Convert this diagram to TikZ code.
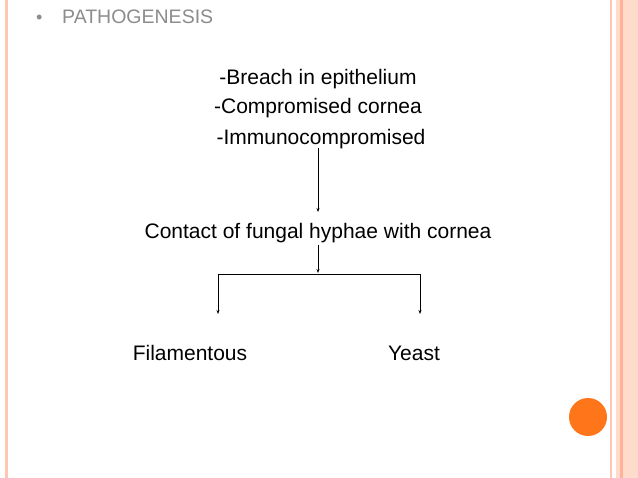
\documentclass[tikz,border=0pt]{standalone}
\usepackage{fontspec}
\setmainfont{Liberation Sans}
\usetikzlibrary{arrows.meta}
\begin{document}
\begin{tikzpicture}[x=1pt,y=-1pt,
  txt/.style={font=\fontsize{21}{24}\selectfont, inner sep=0pt, anchor=base},
  arr/.style={-{Stealth[length=4pt,width=3pt]}, line width=0.6pt}]
\useasboundingbox (0,0) rectangle (638,478);
\fill[white] (0,0) rectangle (638,478);
% borders
\fill[red!50!orange!30] (5,0) rectangle (8,478);
\fill[red!50!orange!30] (610,0) rectangle (612,478);
\fill[red!40!orange!20] (616,0) rectangle (638,478);
\fill[red!50!orange!40] (620,0) rectangle (623,478);
\fill[orange!80!red!90] (588,417) circle (19);
% title
\node[anchor=base west, inner sep=0pt, text=gray!90, font=\fontsize{18}{21}\selectfont] (tb) at (36,24) {\textbullet};
\node[anchor=base west, inner sep=0pt, text=gray!90, font=\fontsize{19.5}{22}\selectfont] (t) at (62,24) {PATHOGENESIS};
% causes
\node[txt] (c1) at (318,85) {-Breach in epithelium};
\node[txt] (c2) at (318,114) {-Compromised cornea};
\node[txt] (c3) at (321,145) {-Immunocompromised};
\node[txt] (contact) at (318,239) {Contact of fungal hyphae with cornea};
\node[txt] (fil) at (190,361) {Filamentous};
\node[txt] (yeast) at (414,361) {Yeast};
\coordinate (a0) at (318,148);
\coordinate (a1) at (318,212);
\coordinate (b0) at (318,245);
\coordinate (b1) at (318,273);
\coordinate (hl) at (218,274);
\coordinate (hr) at (420,274);
\coordinate (l1) at (218,314);
\coordinate (r1) at (420,314);
\draw[arr] (a0) -- (a1);
\draw[arr] (b0) -- (b1);
\draw[line width=0.6pt] (hl) -- (hr);
\draw[arr] (hl) -- (l1);
\draw[arr] (hr) -- (r1);
\end{tikzpicture}
\end{document}
